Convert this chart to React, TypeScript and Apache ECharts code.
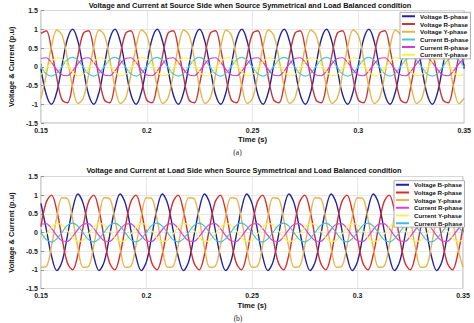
import React, { useEffect, useRef } from 'react';
import * as echarts from 'echarts';

// sample times (s), every 0.0025 s from 0.15 to 0.35
const time: number[] = Array.from({ length: 81 }, (_, i) => Math.round((0.15 + i * 0.0025) * 10000) / 10000);

const xTickLabels = ['0.15', '0.2', '0.25', '0.3', '0.35'];
const yTickLabels = ['-1.5', '-1', '-0.5', '0', '0.5', '1', '1.5'];

const topNames = ['Voltage B-phase', 'Voltage R-phase', 'Voltage Y-phase', 'Current B-phase', 'Current R-phase', 'Current Y-phase'];
const botNames = ['Voltage B-phase', 'Voltage R-phase', 'Voltage Y-phase', 'Current R-phase', 'Current Y-phase', 'Current B-phase'];

// (a) source side
const vBTop = [
  -0.05, -0.74, -1, -0.67, 0.05, 0.74, 1, 0.67,
  -0.05, -0.74, -1, -0.67, 0.05, 0.74, 1, 0.67,
  -0.05, -0.74, -1, -0.67, 0.05, 0.74, 1, 0.67,
  -0.05, -0.74, -1, -0.67, 0.05, 0.74, 1, 0.67,
  -0.05, -0.74, -1, -0.67, 0.05, 0.74, 1, 0.67,
  -0.05, -0.74, -1, -0.67, 0.05, 0.74, 1, 0.67,
  -0.05, -0.74, -1, -0.67, 0.05, 0.74, 1, 0.67,
  -0.05, -0.74, -1, -0.67, 0.05, 0.74, 1, 0.67,
  -0.05, -0.74, -1, -0.67, 0.05, 0.74, 1, 0.67,
  -0.05, -0.74, -1, -0.67, 0.05, 0.74, 1, 0.67,
  -0.05,
];
const vRTop = [
  0.89, 0.96, 0.45, -0.31, -0.89, -0.96, -0.45, 0.31,
  0.89, 0.96, 0.45, -0.31, -0.89, -0.96, -0.45, 0.31,
  0.89, 0.96, 0.45, -0.31, -0.89, -0.96, -0.45, 0.31,
  0.89, 0.96, 0.45, -0.31, -0.89, -0.96, -0.45, 0.31,
  0.89, 0.96, 0.45, -0.31, -0.89, -0.96, -0.45, 0.31,
  0.89, 0.96, 0.45, -0.31, -0.89, -0.96, -0.45, 0.31,
  0.89, 0.96, 0.45, -0.31, -0.89, -0.96, -0.45, 0.31,
  0.89, 0.96, 0.45, -0.31, -0.89, -0.96, -0.45, 0.31,
  0.89, 0.96, 0.45, -0.31, -0.89, -0.96, -0.45, 0.31,
  0.89, 0.96, 0.45, -0.31, -0.89, -0.96, -0.45, 0.31,
  0.89,
];
const vYTop = [
  -0.84, -0.21, 0.55, 0.98, 0.84, 0.21, -0.55, -0.98,
  -0.84, -0.21, 0.55, 0.98, 0.84, 0.21, -0.55, -0.98,
  -0.84, -0.21, 0.55, 0.98, 0.84, 0.21, -0.55, -0.98,
  -0.84, -0.21, 0.55, 0.98, 0.84, 0.21, -0.55, -0.98,
  -0.84, -0.21, 0.55, 0.98, 0.84, 0.21, -0.55, -0.98,
  -0.84, -0.21, 0.55, 0.98, 0.84, 0.21, -0.55, -0.98,
  -0.84, -0.21, 0.55, 0.98, 0.84, 0.21, -0.55, -0.98,
  -0.84, -0.21, 0.55, 0.98, 0.84, 0.21, -0.55, -0.98,
  -0.84, -0.21, 0.55, 0.98, 0.84, 0.21, -0.55, -0.98,
  -0.84, -0.21, 0.55, 0.98, 0.84, 0.21, -0.55, -0.98,
  -0.84,
];
const iBTop = [
  -0.01, -0.19, -0.25, -0.17, 0.01, 0.19, 0.25, 0.17,
  -0.01, -0.19, -0.25, -0.17, 0.01, 0.19, 0.25, 0.17,
  -0.01, -0.19, -0.25, -0.17, 0.01, 0.19, 0.25, 0.17,
  -0.01, -0.19, -0.25, -0.17, 0.01, 0.19, 0.25, 0.17,
  -0.01, -0.19, -0.25, -0.17, 0.01, 0.19, 0.25, 0.17,
  -0.01, -0.19, -0.25, -0.17, 0.01, 0.19, 0.25, 0.17,
  -0.01, -0.19, -0.25, -0.17, 0.01, 0.19, 0.25, 0.17,
  -0.01, -0.19, -0.25, -0.17, 0.01, 0.19, 0.25, 0.17,
  -0.01, -0.19, -0.25, -0.17, 0.01, 0.19, 0.25, 0.17,
  -0.01, -0.19, -0.25, -0.17, 0.01, 0.19, 0.25, 0.17,
  -0.01,
];
const iRTop = [
  0.22, 0.24, 0.11, -0.08, -0.22, -0.24, -0.11, 0.08,
  0.22, 0.24, 0.11, -0.08, -0.22, -0.24, -0.11, 0.08,
  0.22, 0.24, 0.11, -0.08, -0.22, -0.24, -0.11, 0.08,
  0.22, 0.24, 0.11, -0.08, -0.22, -0.24, -0.11, 0.08,
  0.22, 0.24, 0.11, -0.08, -0.22, -0.24, -0.11, 0.08,
  0.22, 0.24, 0.11, -0.08, -0.22, -0.24, -0.11, 0.08,
  0.22, 0.24, 0.11, -0.08, -0.22, -0.24, -0.11, 0.08,
  0.22, 0.24, 0.11, -0.08, -0.22, -0.24, -0.11, 0.08,
  0.22, 0.24, 0.11, -0.08, -0.22, -0.24, -0.11, 0.08,
  0.22, 0.24, 0.11, -0.08, -0.22, -0.24, -0.11, 0.08,
  0.22,
];
const iYTop = [
  -0.21, -0.05, 0.14, 0.24, 0.21, 0.05, -0.14, -0.24,
  -0.21, -0.05, 0.14, 0.24, 0.21, 0.05, -0.14, -0.24,
  -0.21, -0.05, 0.14, 0.24, 0.21, 0.05, -0.14, -0.24,
  -0.21, -0.05, 0.14, 0.24, 0.21, 0.05, -0.14, -0.24,
  -0.21, -0.05, 0.14, 0.24, 0.21, 0.05, -0.14, -0.24,
  -0.21, -0.05, 0.14, 0.24, 0.21, 0.05, -0.14, -0.24,
  -0.21, -0.05, 0.14, 0.24, 0.21, 0.05, -0.14, -0.24,
  -0.21, -0.05, 0.14, 0.24, 0.21, 0.05, -0.14, -0.24,
  -0.21, -0.05, 0.14, 0.24, 0.21, 0.05, -0.14, -0.24,
  -0.21, -0.05, 0.14, 0.24, 0.21, 0.05, -0.14, -0.24,
  -0.21,
];

// (b) load side
const vBBot = [
  0.78, 0.1, -0.63, -1.02, -0.78, -0.1, 0.63, 1.03,
  0.78, 0.1, -0.63, -1.02, -0.78, -0.1, 0.63, 1.03,
  0.78, 0.1, -0.63, -1.02, -0.78, -0.1, 0.63, 1.03,
  0.78, 0.1, -0.63, -1.02, -0.78, -0.1, 0.63, 1.03,
  0.78, 0.1, -0.63, -1.02, -0.78, -0.1, 0.63, 1.03,
  0.78, 0.1, -0.63, -1.02, -0.78, -0.1, 0.63, 1.03,
  0.78, 0.1, -0.63, -1.02, -0.78, -0.1, 0.63, 1.03,
  0.78, 0.1, -0.63, -1.02, -0.78, -0.1, 0.63, 1.03,
  0.78, 0.1, -0.63, -1.02, -0.78, -0.1, 0.63, 1.03,
  0.78, 0.1, -0.63, -1.02, -0.78, -0.1, 0.63, 1.03,
  0.78,
];
const vRBot = [
  0.16, 0.81, 1.0, 0.59, -0.16, -0.81, -1.0, -0.59,
  0.16, 0.81, 1.0, 0.59, -0.16, -0.81, -1.0, -0.59,
  0.16, 0.81, 1.0, 0.59, -0.16, -0.81, -1.0, -0.59,
  0.16, 0.81, 1.0, 0.59, -0.16, -0.81, -1.0, -0.59,
  0.16, 0.81, 1.0, 0.59, -0.16, -0.81, -1.0, -0.59,
  0.16, 0.81, 1.0, 0.59, -0.16, -0.81, -1.0, -0.59,
  0.16, 0.81, 1.0, 0.59, -0.16, -0.81, -1.0, -0.59,
  0.16, 0.81, 1.0, 0.59, -0.16, -0.81, -1.0, -0.59,
  0.16, 0.81, 1.0, 0.59, -0.16, -0.81, -1.0, -0.59,
  0.16, 0.81, 1.0, 0.59, -0.16, -0.81, -1.0, -0.59,
  0.16,
];
const vYBot = [
  -0.93, -0.91, -0.36, 0.41, 0.93, 0.91, 0.36, -0.41,
  -0.93, -0.91, -0.36, 0.41, 0.93, 0.91, 0.36, -0.41,
  -0.93, -0.91, -0.36, 0.41, 0.93, 0.91, 0.36, -0.41,
  -0.93, -0.91, -0.36, 0.41, 0.93, 0.91, 0.36, -0.41,
  -0.93, -0.91, -0.36, 0.41, 0.93, 0.91, 0.36, -0.41,
  -0.93, -0.91, -0.36, 0.41, 0.93, 0.91, 0.36, -0.41,
  -0.93, -0.91, -0.36, 0.41, 0.93, 0.91, 0.36, -0.41,
  -0.93, -0.91, -0.36, 0.41, 0.93, 0.91, 0.36, -0.41,
  -0.93, -0.91, -0.36, 0.41, 0.93, 0.91, 0.36, -0.41,
  -0.93, -0.91, -0.36, 0.41, 0.93, 0.91, 0.36, -0.41,
  -0.93,
];
const iRBot = [
  0.22, 0.24, 0.11, -0.08, -0.22, -0.24, -0.11, 0.08,
  0.22, 0.24, 0.11, -0.08, -0.22, -0.24, -0.11, 0.08,
  0.22, 0.24, 0.11, -0.08, -0.22, -0.24, -0.11, 0.08,
  0.22, 0.24, 0.11, -0.08, -0.22, -0.24, -0.11, 0.08,
  0.22, 0.24, 0.11, -0.08, -0.22, -0.24, -0.11, 0.08,
  0.22, 0.24, 0.11, -0.08, -0.22, -0.24, -0.11, 0.08,
  0.22, 0.24, 0.11, -0.08, -0.22, -0.24, -0.11, 0.08,
  0.22, 0.24, 0.11, -0.08, -0.22, -0.24, -0.11, 0.08,
  0.22, 0.24, 0.11, -0.08, -0.22, -0.24, -0.11, 0.08,
  0.22, 0.24, 0.11, -0.08, -0.22, -0.24, -0.11, 0.08,
  0.22,
];
const iYBot = [
  -0.21, -0.05, 0.14, 0.24, 0.21, 0.05, -0.14, -0.24,
  -0.21, -0.05, 0.14, 0.24, 0.21, 0.05, -0.14, -0.24,
  -0.21, -0.05, 0.14, 0.24, 0.21, 0.05, -0.14, -0.24,
  -0.21, -0.05, 0.14, 0.24, 0.21, 0.05, -0.14, -0.24,
  -0.21, -0.05, 0.14, 0.24, 0.21, 0.05, -0.14, -0.24,
  -0.21, -0.05, 0.14, 0.24, 0.21, 0.05, -0.14, -0.24,
  -0.21, -0.05, 0.14, 0.24, 0.21, 0.05, -0.14, -0.24,
  -0.21, -0.05, 0.14, 0.24, 0.21, 0.05, -0.14, -0.24,
  -0.21, -0.05, 0.14, 0.24, 0.21, 0.05, -0.14, -0.24,
  -0.21, -0.05, 0.14, 0.24, 0.21, 0.05, -0.14, -0.24,
  -0.21,
];
const iBBot = [
  -0.01, -0.19, -0.25, -0.17, 0.01, 0.19, 0.25, 0.17,
  -0.01, -0.19, -0.25, -0.17, 0.01, 0.19, 0.25, 0.17,
  -0.01, -0.19, -0.25, -0.17, 0.01, 0.19, 0.25, 0.17,
  -0.01, -0.19, -0.25, -0.17, 0.01, 0.19, 0.25, 0.17,
  -0.01, -0.19, -0.25, -0.17, 0.01, 0.19, 0.25, 0.17,
  -0.01, -0.19, -0.25, -0.17, 0.01, 0.19, 0.25, 0.17,
  -0.01, -0.19, -0.25, -0.17, 0.01, 0.19, 0.25, 0.17,
  -0.01, -0.19, -0.25, -0.17, 0.01, 0.19, 0.25, 0.17,
  -0.01, -0.19, -0.25, -0.17, 0.01, 0.19, 0.25, 0.17,
  -0.01, -0.19, -0.25, -0.17, 0.01, 0.19, 0.25, 0.17,
  -0.01,
];

const topValues = [vBTop, vRTop, vYTop, iBTop, iRTop, iYTop];
const botValues = [vBBot, vRBot, vYBot, iRBot, iYBot, iBBot];
const topColors = ['#24249a', '#c8383a', '#e6b548', '#4cc6dc', '#d23fd0', '#f2f24a'];
const botColors = ['#22229e', '#dc2a2a', '#e8b44c', '#d844d6', '#f4f45a', '#3ebde0'];
const widths = [1.4, 1.4, 1.4, 1.2, 1.2, 1.2];

const FONT = '"Liberation Sans", Arial, sans-serif';
// line-shaped legend icon (tiny corner dots keep the 13x7 box so the bar stays thin)
const LINE_ICON = 'path://M0,0h0.01v0.01h-0.01z M0,2.5h13v2h-13z M12.99,6.99h0.01v0.01h-0.01z';

function fmtX(v: number): string {
  const idx = Math.round((v - 0.15) / 0.05);
  return xTickLabels[idx] ?? '';
}
function fmtY(v: number): string {
  const idx = Math.round((v + 1.5) / 0.5);
  return yTickLabels[idx] ?? '';
}

function makeX(gridIndex: number, margin: number, nameGap: number) {
  return {
    type: 'value', gridIndex, min: 0.15, max: 0.35, interval: 0.05,
    name: 'Time (s)', nameLocation: 'middle', nameGap,
    nameTextStyle: { fontSize: 7.6, fontWeight: 'bold', color: '#111', fontFamily: FONT },
    axisLine: { show: false },
    axisTick: { show: true, inside: true, length: 3, lineStyle: { color: '#777', width: 0.8 } },
    axisLabel: { formatter: fmtX, margin, fontSize: 7, fontWeight: 'bold', color: '#222', fontFamily: FONT },
    splitLine: { show: true, lineStyle: { color: '#e2e2e2', width: 0.8 } },
  };
}
function makeY(gridIndex: number, nameGap: number) {
  return {
    type: 'value', gridIndex, min: -1.5, max: 1.5, interval: 0.5,
    name: 'Voltage & Current (p.u)', nameLocation: 'middle', nameGap,
    nameTextStyle: { fontSize: 7.4, fontWeight: 'bold', color: '#111', fontFamily: FONT },
    axisLine: { show: false },
    axisTick: { show: true, inside: true, length: 3, lineStyle: { color: '#777', width: 0.8 } },
    axisLabel: { formatter: fmtY, margin: 3, fontSize: 7, fontWeight: 'bold', color: '#222', fontFamily: FONT },
    splitLine: { show: true, lineStyle: { color: '#e2e2e2', width: 0.8 } },
  };
}

function makeSeries(name: string, vals: number[], color: string, width: number, idx: number) {
  return {
    type: 'line', name, xAxisIndex: idx, yAxisIndex: idx,
    data: time.map((t, i) => [t, vals[i]]),
    symbol: 'none', smooth: 0.35, silent: true,
    lineStyle: { color, width }, itemStyle: { color },
    emphasis: { disabled: true },
  };
}

function makeLegend(names: string[], colors: string[], left: number, top: number) {
  return {
    data: names.map((n, i) => ({ name: n, icon: LINE_ICON, itemStyle: { color: colors[i], borderWidth: 0 } })),
    orient: 'vertical', left, top, itemWidth: 13, itemHeight: 7, itemGap: 0.7,
    padding: [0.5, 2, 0.5, 2], backgroundColor: '#fff', borderColor: '#999', borderWidth: 0.8,
    selectedMode: false,
    textStyle: { fontSize: 6.2, fontWeight: 'bold', color: '#111', fontFamily: FONT },
  };
}

export default function App() {
  const ref = useRef<HTMLDivElement>(null);
  useEffect(() => {
    if (!ref.current) return;
    const chart = echarts.init(ref.current, undefined, { renderer: 'svg' });
    const series: any[] = [];
    topNames.forEach((n, i) => series.push(makeSeries(n, topValues[i], topColors[i], widths[i], 0)));
    botNames.forEach((n, i) => series.push(makeSeries(n, botValues[i], botColors[i], widths[i], 1)));
    chart.setOption({
      animation: false,
      backgroundColor: '#fff',
      grid: [
        { left: 32, top: 10.5, width: 438, height: 112.5, show: true, borderColor: '#999', borderWidth: 0.8, backgroundColor: '#fff' },
        { left: 25, top: 176.5, width: 438, height: 112, show: true, borderColor: '#999', borderWidth: 0.8, backgroundColor: '#fff' },
      ],
      xAxis: [makeX(0, 4, 12.5), makeX(1, 3, 13)],
      yAxis: [makeY(0, 17), makeY(1, 18)],
      legend: [makeLegend(topNames, topColors, 400, 12.3), makeLegend(botNames, botColors, 394, 180.7)],
      series,
      graphic: [
        { type: 'text', x: 250, y: 5, style: { text: 'Voltage and Current at Source Side when Source Symmetrical and Load Balanced condition', fontSize: 7.4, fontWeight: 'bold', fill: '#111', fontFamily: FONT, align: 'center', verticalAlign: 'middle' } },
        { type: 'text', x: 244, y: 170.7, style: { text: 'Voltage and Current at Load Side when Source Symmetrical and Load Balanced condition', fontSize: 7.4, fontWeight: 'bold', fill: '#111', fontFamily: FONT, align: 'center', verticalAlign: 'middle' } },
        { type: 'text', x: 237.5, y: 152.5, style: { text: '(a)', fontSize: 7.5, fill: '#222', fontFamily: '"Liberation Serif", serif', align: 'center', verticalAlign: 'middle' } },
        { type: 'text', x: 238, y: 318.5, style: { text: '(b)', fontSize: 7.5, fill: '#222', fontFamily: '"Liberation Serif", serif', align: 'center', verticalAlign: 'middle' } },
      ],
    });
    return () => chart.dispose();
  }, []);
  return <div ref={ref} style={{ position: 'absolute', left: 0, top: 0, width: 474, height: 323 }} />;
}
